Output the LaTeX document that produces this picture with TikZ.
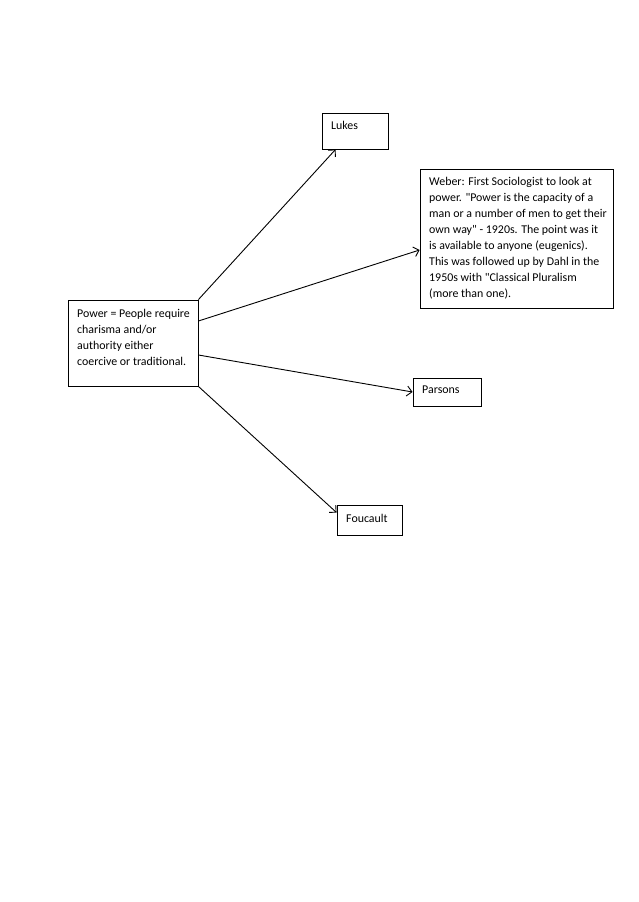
\documentclass[tikz,border=0pt]{standalone}
\usepackage{fontspec}
\setmainfont{Carlito}[Ligatures=TeXOff]
\usetikzlibrary{arrows.meta,calc}
\begin{document}
\begin{tikzpicture}[x=1pt,y=-1pt,
  box/.style={draw, line width=0.9pt, rectangle, inner sep=0pt},
  txt/.style={anchor=north west, inner sep=0pt, align=left, font=\fontsize{11.9}{16}\selectfont},
  conn/.style={line width=0.9pt, -{Straight Barb[length=5pt,width=10pt]}}]
\useasboundingbox[fill=white] (0,0) rectangle (638,902);
% boxes
\node[box, minimum width=130pt, minimum height=86pt] (power) at (133,343) {};
\node[box, minimum width=66pt, minimum height=36pt] (lukes) at (355,131) {};
\node[box, minimum width=193pt, minimum height=139pt] (weber) at (516.5,238.5) {};
\node[box, minimum width=68pt, minimum height=28pt] (parsons) at (447,392) {};
\node[box, minimum width=65pt, minimum height=30pt] (foucault) at (369.5,520) {};
% texts
\node[txt] (powert) at (77,309) {Power = People require\\charisma and/or\\authority either\\coercive or traditional.};
\node[txt] (lukest) at (331,121) {Lukes};
\node[txt] (webert) at (429,177) {Weber: First Sociologist to look at\\power. "Power is the capacity of a\\man or a number of men to get their\\own way" - 1920s. The point was it\\is available to anyone (eugenics).\\This was followed up by Dahl in the\\1950s with "Classical Pluralism\\(more than one).};
\node[txt] (parsonst) at (422,386) {Parsons};
\node[txt] (foucaultt) at (346,514) {Foucault};
% connectors
\draw[conn] (power.north east) -- ([xshift=14pt]lukes.south west);
\draw[conn] ([yshift=22pt]power.east) -- ([yshift=-11.5pt]weber.west);
\draw[conn] ([yshift=-12pt]power.east) -- (parsons.west);
\draw[conn] (power.south east) -- ([yshift=-8pt]foucault.north west);
\end{tikzpicture}
\end{document}
